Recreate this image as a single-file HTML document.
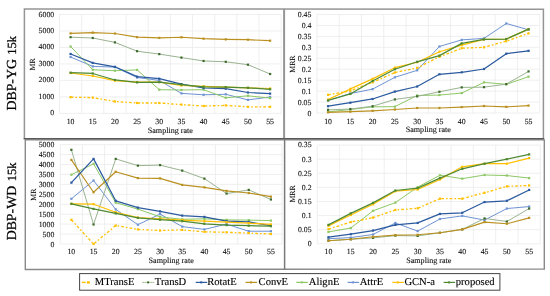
<!DOCTYPE html>
<html><head><meta charset="utf-8"><style>
html,body{margin:0;padding:0;background:#fff;}
body{width:550px;height:296px;overflow:hidden;}
svg{display:block;will-change:transform;text-rendering:geometricPrecision;filter:blur(0.3px);}
.t{font-family:"Liberation Serif", serif;font-size:7.8px;fill:#111;stroke:#111;stroke-width:0.1px;}
.s{font-family:"Liberation Serif", serif;font-size:8.1px;fill:#111;stroke:#111;stroke-width:0.1px;}
.l{font-family:"Liberation Serif", serif;font-size:10.6px;fill:#000;stroke:#000;stroke-width:0.12px;}
.b{font-family:"Liberation Serif", serif;font-size:13.8px;fill:#000;stroke:#000;stroke-width:0.25px;}
</style></head><body>
<svg width="550" height="296" viewBox="0 0 550 296">
<rect width="550" height="296" fill="#fff"/>
<path d="M59.5 113.4H281.2M59.5 96.92H281.2M59.5 80.43H281.2M59.5 63.95H281.2M59.5 47.47H281.2M59.5 30.98H281.2M59.5 14.5H281.2M59.5 14.5V113.4M81.67 14.5V113.4M103.84 14.5V113.4M126.01 14.5V113.4M148.18 14.5V113.4M170.35 14.5V113.4M192.52 14.5V113.4M214.69 14.5V113.4M236.86 14.5V113.4M259.03 14.5V113.4M281.2 14.5V113.4" stroke="#ebebeb" stroke-width="0.8" fill="none"/>
<text x="54.2" y="115.4" text-anchor="end" class="t">0</text>
<text x="54.2" y="98.92" text-anchor="end" class="t">1000</text>
<text x="54.2" y="82.43" text-anchor="end" class="t">2000</text>
<text x="54.2" y="65.95" text-anchor="end" class="t">3000</text>
<text x="54.2" y="49.47" text-anchor="end" class="t">4000</text>
<text x="54.2" y="32.98" text-anchor="end" class="t">5000</text>
<text x="54.2" y="16.5" text-anchor="end" class="t">6000</text>
<text x="70.58" y="124.2" text-anchor="middle" class="t">10</text>
<text x="92.75" y="124.2" text-anchor="middle" class="t">15</text>
<text x="114.92" y="124.2" text-anchor="middle" class="t">20</text>
<text x="137.09" y="124.2" text-anchor="middle" class="t">25</text>
<text x="159.26" y="124.2" text-anchor="middle" class="t">30</text>
<text x="181.44" y="124.2" text-anchor="middle" class="t">35</text>
<text x="203.6" y="124.2" text-anchor="middle" class="t">40</text>
<text x="225.77" y="124.2" text-anchor="middle" class="t">45</text>
<text x="247.94" y="124.2" text-anchor="middle" class="t">50</text>
<text x="270.12" y="124.2" text-anchor="middle" class="t">55</text>
<text x="35.1" y="64.3" text-anchor="middle" class="t" transform="rotate(-90 35.1 64.3)">MR</text>
<text x="170.35" y="132.6" text-anchor="middle" class="s">Sampling rate</text>
<path d="M70.58 57.03 L92.75 66.39 L114.92 67.1 L137.09 77.5 L159.26 80.4 L181.44 93.39 L203.6 94.79 L225.77 94.3 L247.94 99.9 L270.12 97" stroke="#6F93D3" stroke-width="1.0" fill="none" stroke-linejoin="round"/>
<rect x="69.48" y="55.93" width="2.2" height="2.2" fill="#6F93D3"/>
<rect x="91.66" y="65.29" width="2.2" height="2.2" fill="#6F93D3"/>
<rect x="113.83" y="66" width="2.2" height="2.2" fill="#6F93D3"/>
<rect x="136" y="76.4" width="2.2" height="2.2" fill="#6F93D3"/>
<rect x="158.16" y="79.3" width="2.2" height="2.2" fill="#6F93D3"/>
<rect x="180.34" y="92.29" width="2.2" height="2.2" fill="#6F93D3"/>
<rect x="202.5" y="93.69" width="2.2" height="2.2" fill="#6F93D3"/>
<rect x="224.67" y="93.2" width="2.2" height="2.2" fill="#6F93D3"/>
<rect x="246.84" y="98.8" width="2.2" height="2.2" fill="#6F93D3"/>
<rect x="269.01" y="95.9" width="2.2" height="2.2" fill="#6F93D3"/>
<path d="M70.58 46.48 L92.75 69.79 L114.92 70.69 L137.09 69.88 L159.26 89.7 L181.44 89.99 L203.6 89.7 L225.77 97.79 L247.94 95.8 L270.12 98.1" stroke="#8DC865" stroke-width="1.0" fill="none" stroke-linejoin="round"/>
<rect x="69.48" y="45.38" width="2.2" height="2.2" fill="#8DC865"/>
<rect x="91.66" y="68.69" width="2.2" height="2.2" fill="#8DC865"/>
<rect x="113.83" y="69.59" width="2.2" height="2.2" fill="#8DC865"/>
<rect x="136" y="68.78" width="2.2" height="2.2" fill="#8DC865"/>
<rect x="158.16" y="88.6" width="2.2" height="2.2" fill="#8DC865"/>
<rect x="180.34" y="88.89" width="2.2" height="2.2" fill="#8DC865"/>
<rect x="202.5" y="88.6" width="2.2" height="2.2" fill="#8DC865"/>
<rect x="224.67" y="96.69" width="2.2" height="2.2" fill="#8DC865"/>
<rect x="246.84" y="94.7" width="2.2" height="2.2" fill="#8DC865"/>
<rect x="269.01" y="97" width="2.2" height="2.2" fill="#8DC865"/>
<path d="M70.58 37.18 L92.75 37.99 L114.92 42.39 L137.09 51.19 L159.26 54.09 L181.44 57.59 L203.6 60.98 L225.77 61.79 L247.94 64.69 L270.12 73.99" stroke="#9AB391" stroke-width="1" fill="none"/>
<rect x="69.48" y="36.08" width="2.2" height="2.2" fill="#3E6B2C"/>
<rect x="91.66" y="36.89" width="2.2" height="2.2" fill="#3E6B2C"/>
<rect x="113.83" y="41.29" width="2.2" height="2.2" fill="#3E6B2C"/>
<rect x="136" y="50.09" width="2.2" height="2.2" fill="#3E6B2C"/>
<rect x="158.16" y="52.99" width="2.2" height="2.2" fill="#3E6B2C"/>
<rect x="180.34" y="56.49" width="2.2" height="2.2" fill="#3E6B2C"/>
<rect x="202.5" y="59.88" width="2.2" height="2.2" fill="#3E6B2C"/>
<rect x="224.67" y="60.69" width="2.2" height="2.2" fill="#3E6B2C"/>
<rect x="246.84" y="63.59" width="2.2" height="2.2" fill="#3E6B2C"/>
<rect x="269.01" y="72.89" width="2.2" height="2.2" fill="#3E6B2C"/>
<path d="M70.58 33.39 L92.75 32.58 L114.92 33.54 L137.09 37.18 L159.26 37.89 L181.44 37.28 L203.6 38.68 L225.77 39.39 L247.94 39.69 L270.12 40.69" stroke="#BA9020" stroke-width="1.15" fill="none" stroke-linejoin="round"/>
<rect x="69.48" y="32.29" width="2.2" height="2.2" fill="#BA9020"/>
<rect x="91.66" y="31.48" width="2.2" height="2.2" fill="#BA9020"/>
<rect x="113.83" y="32.44" width="2.2" height="2.2" fill="#BA9020"/>
<rect x="136" y="36.08" width="2.2" height="2.2" fill="#BA9020"/>
<rect x="158.16" y="36.79" width="2.2" height="2.2" fill="#BA9020"/>
<rect x="180.34" y="36.18" width="2.2" height="2.2" fill="#BA9020"/>
<rect x="202.5" y="37.58" width="2.2" height="2.2" fill="#BA9020"/>
<rect x="224.67" y="38.29" width="2.2" height="2.2" fill="#BA9020"/>
<rect x="246.84" y="38.59" width="2.2" height="2.2" fill="#BA9020"/>
<rect x="269.01" y="39.59" width="2.2" height="2.2" fill="#BA9020"/>
<path d="M70.58 97.2 L92.75 97.59 L114.92 101.5 L137.09 103 L159.26 103 L181.44 104.6 L203.6 106 L225.77 105.41 L247.94 106.81 L270.12 106.81" stroke="#FFC000" stroke-width="1.3" fill="none" stroke-dasharray="2.8 2 1.6 2"/>
<rect x="69.48" y="96.1" width="2.2" height="2.2" fill="#FFC000"/>
<rect x="91.66" y="96.49" width="2.2" height="2.2" fill="#FFC000"/>
<rect x="113.83" y="100.4" width="2.2" height="2.2" fill="#FFC000"/>
<rect x="136" y="101.9" width="2.2" height="2.2" fill="#FFC000"/>
<rect x="158.16" y="101.9" width="2.2" height="2.2" fill="#FFC000"/>
<rect x="180.34" y="103.5" width="2.2" height="2.2" fill="#FFC000"/>
<rect x="202.5" y="104.9" width="2.2" height="2.2" fill="#FFC000"/>
<rect x="224.67" y="104.31" width="2.2" height="2.2" fill="#FFC000"/>
<rect x="246.84" y="105.71" width="2.2" height="2.2" fill="#FFC000"/>
<rect x="269.01" y="105.71" width="2.2" height="2.2" fill="#FFC000"/>
<path d="M70.58 53.99 L92.75 62.9 L114.92 66.79 L137.09 76.69 L159.26 78.69 L181.44 84.09 L203.6 88 L225.77 88.69 L247.94 92.5 L270.12 93.6" stroke="#2B5A9F" stroke-width="1.25" fill="none" stroke-linejoin="round"/>
<rect x="69.48" y="52.89" width="2.2" height="2.2" fill="#2B5A9F"/>
<rect x="91.66" y="61.8" width="2.2" height="2.2" fill="#2B5A9F"/>
<rect x="113.83" y="65.69" width="2.2" height="2.2" fill="#2B5A9F"/>
<rect x="136" y="75.59" width="2.2" height="2.2" fill="#2B5A9F"/>
<rect x="158.16" y="77.59" width="2.2" height="2.2" fill="#2B5A9F"/>
<rect x="180.34" y="82.99" width="2.2" height="2.2" fill="#2B5A9F"/>
<rect x="202.5" y="86.9" width="2.2" height="2.2" fill="#2B5A9F"/>
<rect x="224.67" y="87.59" width="2.2" height="2.2" fill="#2B5A9F"/>
<rect x="246.84" y="91.4" width="2.2" height="2.2" fill="#2B5A9F"/>
<rect x="269.01" y="92.5" width="2.2" height="2.2" fill="#2B5A9F"/>
<path d="M70.58 73.02 L92.75 76 L114.92 80.6 L137.09 82.1 L159.26 82.1 L181.44 85.49 L203.6 86.3 L225.77 87.09 L247.94 87.8 L270.12 88.49" stroke="#FFC000" stroke-width="1.2" fill="none" stroke-linejoin="round"/>
<rect x="69.48" y="71.92" width="2.2" height="2.2" fill="#FFC000"/>
<rect x="91.66" y="74.9" width="2.2" height="2.2" fill="#FFC000"/>
<rect x="113.83" y="79.5" width="2.2" height="2.2" fill="#FFC000"/>
<rect x="136" y="81" width="2.2" height="2.2" fill="#FFC000"/>
<rect x="158.16" y="81" width="2.2" height="2.2" fill="#FFC000"/>
<rect x="180.34" y="84.39" width="2.2" height="2.2" fill="#FFC000"/>
<rect x="202.5" y="85.2" width="2.2" height="2.2" fill="#FFC000"/>
<rect x="224.67" y="85.99" width="2.2" height="2.2" fill="#FFC000"/>
<rect x="246.84" y="86.7" width="2.2" height="2.2" fill="#FFC000"/>
<rect x="269.01" y="87.39" width="2.2" height="2.2" fill="#FFC000"/>
<path d="M70.58 72.69 L92.75 73.49 L114.92 79.99 L137.09 82.39 L159.26 82.1 L181.44 84.59 L203.6 86.8 L225.77 87.19 L247.94 87.8 L270.12 89.3" stroke="#4F8A33" stroke-width="1.25" fill="none" stroke-linejoin="round"/>
<rect x="69.48" y="71.59" width="2.2" height="2.2" fill="#4F8A33"/>
<rect x="91.66" y="72.39" width="2.2" height="2.2" fill="#4F8A33"/>
<rect x="113.83" y="78.89" width="2.2" height="2.2" fill="#4F8A33"/>
<rect x="136" y="81.29" width="2.2" height="2.2" fill="#4F8A33"/>
<rect x="158.16" y="81" width="2.2" height="2.2" fill="#4F8A33"/>
<rect x="180.34" y="83.49" width="2.2" height="2.2" fill="#4F8A33"/>
<rect x="202.5" y="85.7" width="2.2" height="2.2" fill="#4F8A33"/>
<rect x="224.67" y="86.09" width="2.2" height="2.2" fill="#4F8A33"/>
<rect x="246.84" y="86.7" width="2.2" height="2.2" fill="#4F8A33"/>
<rect x="269.01" y="88.2" width="2.2" height="2.2" fill="#4F8A33"/>
<path d="M316.9 113H539.7M316.9 102.06H539.7M316.9 91.11H539.7M316.9 80.17H539.7M316.9 69.22H539.7M316.9 58.28H539.7M316.9 47.33H539.7M316.9 36.39H539.7M316.9 25.44H539.7M316.9 14.5H539.7M316.9 14.5V113M339.18 14.5V113M361.46 14.5V113M383.74 14.5V113M406.02 14.5V113M428.3 14.5V113M450.58 14.5V113M472.86 14.5V113M495.14 14.5V113M517.42 14.5V113M539.7 14.5V113" stroke="#ebebeb" stroke-width="0.8" fill="none"/>
<text x="311.4" y="115.6" text-anchor="end" class="t">0</text>
<text x="311.4" y="104.66" text-anchor="end" class="t">0.05</text>
<text x="311.4" y="93.71" text-anchor="end" class="t">0.1</text>
<text x="311.4" y="82.77" text-anchor="end" class="t">0.15</text>
<text x="311.4" y="71.82" text-anchor="end" class="t">0.2</text>
<text x="311.4" y="60.88" text-anchor="end" class="t">0.25</text>
<text x="311.4" y="49.93" text-anchor="end" class="t">0.3</text>
<text x="311.4" y="38.99" text-anchor="end" class="t">0.35</text>
<text x="311.4" y="28.04" text-anchor="end" class="t">0.4</text>
<text x="311.4" y="17.1" text-anchor="end" class="t">0.45</text>
<text x="328.04" y="124" text-anchor="middle" class="t">10</text>
<text x="350.32" y="124" text-anchor="middle" class="t">15</text>
<text x="372.6" y="124" text-anchor="middle" class="t">20</text>
<text x="394.88" y="124" text-anchor="middle" class="t">25</text>
<text x="417.16" y="124" text-anchor="middle" class="t">30</text>
<text x="439.44" y="124" text-anchor="middle" class="t">35</text>
<text x="461.72" y="124" text-anchor="middle" class="t">40</text>
<text x="484" y="124" text-anchor="middle" class="t">45</text>
<text x="506.28" y="124" text-anchor="middle" class="t">50</text>
<text x="528.56" y="124" text-anchor="middle" class="t">55</text>
<text x="294.9" y="64.1" text-anchor="middle" class="t" transform="rotate(-90 294.9 64.1)">MRR</text>
<text x="428.3" y="132.4" text-anchor="middle" class="s">Sampling rate</text>
<path d="M328.04 100.3 L350.32 93.52 L372.6 89.14 L394.88 77.32 L417.16 70.32 L439.44 46.46 L461.72 39.89 L484 38.36 L506.28 23.47 L528.56 29.82" stroke="#6F93D3" stroke-width="1.0" fill="none" stroke-linejoin="round"/>
<rect x="326.94" y="99.2" width="2.2" height="2.2" fill="#6F93D3"/>
<rect x="349.22" y="92.42" width="2.2" height="2.2" fill="#6F93D3"/>
<rect x="371.5" y="88.04" width="2.2" height="2.2" fill="#6F93D3"/>
<rect x="393.78" y="76.22" width="2.2" height="2.2" fill="#6F93D3"/>
<rect x="416.06" y="69.22" width="2.2" height="2.2" fill="#6F93D3"/>
<rect x="438.34" y="45.36" width="2.2" height="2.2" fill="#6F93D3"/>
<rect x="460.62" y="38.79" width="2.2" height="2.2" fill="#6F93D3"/>
<rect x="482.9" y="37.26" width="2.2" height="2.2" fill="#6F93D3"/>
<rect x="505.18" y="22.37" width="2.2" height="2.2" fill="#6F93D3"/>
<rect x="527.46" y="28.72" width="2.2" height="2.2" fill="#6F93D3"/>
<path d="M328.04 111.91 L350.32 109.5 L372.6 106.87 L394.88 106.65 L417.16 95.49 L439.44 95.05 L461.72 93.08 L484 82.36 L506.28 84.33 L528.56 76.66" stroke="#8DC865" stroke-width="1.0" fill="none" stroke-linejoin="round"/>
<rect x="326.94" y="110.81" width="2.2" height="2.2" fill="#8DC865"/>
<rect x="349.22" y="108.4" width="2.2" height="2.2" fill="#8DC865"/>
<rect x="371.5" y="105.77" width="2.2" height="2.2" fill="#8DC865"/>
<rect x="393.78" y="105.55" width="2.2" height="2.2" fill="#8DC865"/>
<rect x="416.06" y="94.39" width="2.2" height="2.2" fill="#8DC865"/>
<rect x="438.34" y="93.95" width="2.2" height="2.2" fill="#8DC865"/>
<rect x="460.62" y="91.98" width="2.2" height="2.2" fill="#8DC865"/>
<rect x="482.9" y="81.26" width="2.2" height="2.2" fill="#8DC865"/>
<rect x="505.18" y="83.23" width="2.2" height="2.2" fill="#8DC865"/>
<rect x="527.46" y="75.56" width="2.2" height="2.2" fill="#8DC865"/>
<path d="M328.04 109.83 L350.32 109.06 L372.6 106.21 L394.88 99.43 L417.16 96.36 L439.44 91.77 L461.72 87.39 L484 87.17 L506.28 84.11 L528.56 71.41" stroke="#9AB391" stroke-width="1" fill="none"/>
<rect x="326.94" y="108.73" width="2.2" height="2.2" fill="#3E6B2C"/>
<rect x="349.22" y="107.96" width="2.2" height="2.2" fill="#3E6B2C"/>
<rect x="371.5" y="105.11" width="2.2" height="2.2" fill="#3E6B2C"/>
<rect x="393.78" y="98.33" width="2.2" height="2.2" fill="#3E6B2C"/>
<rect x="416.06" y="95.26" width="2.2" height="2.2" fill="#3E6B2C"/>
<rect x="438.34" y="90.67" width="2.2" height="2.2" fill="#3E6B2C"/>
<rect x="460.62" y="86.29" width="2.2" height="2.2" fill="#3E6B2C"/>
<rect x="482.9" y="86.07" width="2.2" height="2.2" fill="#3E6B2C"/>
<rect x="505.18" y="83.01" width="2.2" height="2.2" fill="#3E6B2C"/>
<rect x="527.46" y="70.31" width="2.2" height="2.2" fill="#3E6B2C"/>
<path d="M328.04 112.34 L350.32 111.69 L372.6 110.81 L394.88 109.5 L417.16 107.97 L439.44 107.97 L461.72 107.09 L484 106 L506.28 106.87 L528.56 105.56" stroke="#BA9020" stroke-width="1.15" fill="none" stroke-linejoin="round"/>
<rect x="326.94" y="111.24" width="2.2" height="2.2" fill="#BA9020"/>
<rect x="349.22" y="110.59" width="2.2" height="2.2" fill="#BA9020"/>
<rect x="371.5" y="109.71" width="2.2" height="2.2" fill="#BA9020"/>
<rect x="393.78" y="108.4" width="2.2" height="2.2" fill="#BA9020"/>
<rect x="416.06" y="106.87" width="2.2" height="2.2" fill="#BA9020"/>
<rect x="438.34" y="106.87" width="2.2" height="2.2" fill="#BA9020"/>
<rect x="460.62" y="105.99" width="2.2" height="2.2" fill="#BA9020"/>
<rect x="482.9" y="104.9" width="2.2" height="2.2" fill="#BA9020"/>
<rect x="505.18" y="105.77" width="2.2" height="2.2" fill="#BA9020"/>
<rect x="527.46" y="104.46" width="2.2" height="2.2" fill="#BA9020"/>
<path d="M328.04 94.83 L350.32 90.89 L372.6 82.36 L394.88 72.51 L417.16 67.91 L439.44 56.75 L461.72 48.21 L484 47.33 L506.28 41.2 L528.56 33.32" stroke="#FFC000" stroke-width="1.3" fill="none" stroke-dasharray="2.8 2 1.6 2"/>
<rect x="326.94" y="93.73" width="2.2" height="2.2" fill="#FFC000"/>
<rect x="349.22" y="89.79" width="2.2" height="2.2" fill="#FFC000"/>
<rect x="371.5" y="81.26" width="2.2" height="2.2" fill="#FFC000"/>
<rect x="393.78" y="71.41" width="2.2" height="2.2" fill="#FFC000"/>
<rect x="416.06" y="66.81" width="2.2" height="2.2" fill="#FFC000"/>
<rect x="438.34" y="55.65" width="2.2" height="2.2" fill="#FFC000"/>
<rect x="460.62" y="47.11" width="2.2" height="2.2" fill="#FFC000"/>
<rect x="482.9" y="46.23" width="2.2" height="2.2" fill="#FFC000"/>
<rect x="505.18" y="40.1" width="2.2" height="2.2" fill="#FFC000"/>
<rect x="527.46" y="32.22" width="2.2" height="2.2" fill="#FFC000"/>
<path d="M328.04 106.21 L350.32 102.71 L372.6 98.99 L394.88 91.55 L417.16 86.51 L439.44 74.26 L461.72 72.29 L484 69 L506.28 53.68 L528.56 50.84" stroke="#2B5A9F" stroke-width="1.25" fill="none" stroke-linejoin="round"/>
<rect x="326.94" y="105.11" width="2.2" height="2.2" fill="#2B5A9F"/>
<rect x="349.22" y="101.61" width="2.2" height="2.2" fill="#2B5A9F"/>
<rect x="371.5" y="97.89" width="2.2" height="2.2" fill="#2B5A9F"/>
<rect x="393.78" y="90.45" width="2.2" height="2.2" fill="#2B5A9F"/>
<rect x="416.06" y="85.41" width="2.2" height="2.2" fill="#2B5A9F"/>
<rect x="438.34" y="73.16" width="2.2" height="2.2" fill="#2B5A9F"/>
<rect x="460.62" y="71.19" width="2.2" height="2.2" fill="#2B5A9F"/>
<rect x="482.9" y="67.9" width="2.2" height="2.2" fill="#2B5A9F"/>
<rect x="505.18" y="52.58" width="2.2" height="2.2" fill="#2B5A9F"/>
<rect x="527.46" y="49.74" width="2.2" height="2.2" fill="#2B5A9F"/>
<path d="M328.04 99.65 L350.32 88.92 L372.6 78.85 L394.88 67.69 L417.16 62.22 L439.44 51.71 L461.72 45.14 L484 39.45 L506.28 39.02 L528.56 29.17" stroke="#FFC000" stroke-width="1.2" fill="none" stroke-linejoin="round"/>
<rect x="326.94" y="98.55" width="2.2" height="2.2" fill="#FFC000"/>
<rect x="349.22" y="87.82" width="2.2" height="2.2" fill="#FFC000"/>
<rect x="371.5" y="77.75" width="2.2" height="2.2" fill="#FFC000"/>
<rect x="393.78" y="66.59" width="2.2" height="2.2" fill="#FFC000"/>
<rect x="416.06" y="61.12" width="2.2" height="2.2" fill="#FFC000"/>
<rect x="438.34" y="50.61" width="2.2" height="2.2" fill="#FFC000"/>
<rect x="460.62" y="44.04" width="2.2" height="2.2" fill="#FFC000"/>
<rect x="482.9" y="38.35" width="2.2" height="2.2" fill="#FFC000"/>
<rect x="505.18" y="37.92" width="2.2" height="2.2" fill="#FFC000"/>
<rect x="527.46" y="28.07" width="2.2" height="2.2" fill="#FFC000"/>
<path d="M328.04 100.52 L350.32 93.96 L372.6 81.04 L394.88 69.22 L417.16 61.78 L439.44 55.65 L461.72 43.39 L484 39.45 L506.28 39.02 L528.56 29.17" stroke="#4F8A33" stroke-width="1.25" fill="none" stroke-linejoin="round"/>
<rect x="326.94" y="99.42" width="2.2" height="2.2" fill="#4F8A33"/>
<rect x="349.22" y="92.86" width="2.2" height="2.2" fill="#4F8A33"/>
<rect x="371.5" y="79.94" width="2.2" height="2.2" fill="#4F8A33"/>
<rect x="393.78" y="68.12" width="2.2" height="2.2" fill="#4F8A33"/>
<rect x="416.06" y="60.68" width="2.2" height="2.2" fill="#4F8A33"/>
<rect x="438.34" y="54.55" width="2.2" height="2.2" fill="#4F8A33"/>
<rect x="460.62" y="42.29" width="2.2" height="2.2" fill="#4F8A33"/>
<rect x="482.9" y="38.35" width="2.2" height="2.2" fill="#4F8A33"/>
<rect x="505.18" y="37.92" width="2.2" height="2.2" fill="#4F8A33"/>
<rect x="527.46" y="28.07" width="2.2" height="2.2" fill="#4F8A33"/>
<path d="M60.3 244H282M60.3 234.07H282M60.3 224.14H282M60.3 214.21H282M60.3 204.28H282M60.3 194.35H282M60.3 184.42H282M60.3 174.49H282M60.3 164.56H282M60.3 154.63H282M60.3 144.7H282M60.3 144.7V244M82.47 144.7V244M104.64 144.7V244M126.81 144.7V244M148.98 144.7V244M171.15 144.7V244M193.32 144.7V244M215.49 144.7V244M237.66 144.7V244M259.83 144.7V244M282 144.7V244" stroke="#ebebeb" stroke-width="0.8" fill="none"/>
<text x="54.3" y="246.5" text-anchor="end" class="t">0</text>
<text x="54.3" y="236.57" text-anchor="end" class="t">500</text>
<text x="54.3" y="226.64" text-anchor="end" class="t">1000</text>
<text x="54.3" y="216.71" text-anchor="end" class="t">1500</text>
<text x="54.3" y="206.78" text-anchor="end" class="t">2000</text>
<text x="54.3" y="196.85" text-anchor="end" class="t">2500</text>
<text x="54.3" y="186.92" text-anchor="end" class="t">3000</text>
<text x="54.3" y="176.99" text-anchor="end" class="t">3500</text>
<text x="54.3" y="167.06" text-anchor="end" class="t">4000</text>
<text x="54.3" y="157.13" text-anchor="end" class="t">4500</text>
<text x="54.3" y="147.2" text-anchor="end" class="t">5000</text>
<text x="71.38" y="254.4" text-anchor="middle" class="t">10</text>
<text x="93.55" y="254.4" text-anchor="middle" class="t">15</text>
<text x="115.72" y="254.4" text-anchor="middle" class="t">20</text>
<text x="137.89" y="254.4" text-anchor="middle" class="t">25</text>
<text x="160.06" y="254.4" text-anchor="middle" class="t">30</text>
<text x="182.23" y="254.4" text-anchor="middle" class="t">35</text>
<text x="204.4" y="254.4" text-anchor="middle" class="t">40</text>
<text x="226.57" y="254.4" text-anchor="middle" class="t">45</text>
<text x="248.75" y="254.4" text-anchor="middle" class="t">50</text>
<text x="270.91" y="254.4" text-anchor="middle" class="t">55</text>
<text x="35.9" y="194.6" text-anchor="middle" class="t" transform="rotate(-90 35.9 194.6)">MR</text>
<text x="171.15" y="263.2" text-anchor="middle" class="s">Sampling rate</text>
<path d="M71.38 198.8 L93.55 180.51 L115.72 209.4 L137.89 224.7 L160.06 214.11 L182.23 226.6 L204.4 229.4 L226.57 224.14 L248.75 231.21 L270.91 231.21" stroke="#6F93D3" stroke-width="1.0" fill="none" stroke-linejoin="round"/>
<rect x="70.28" y="197.7" width="2.2" height="2.2" fill="#6F93D3"/>
<rect x="92.45" y="179.41" width="2.2" height="2.2" fill="#6F93D3"/>
<rect x="114.62" y="208.3" width="2.2" height="2.2" fill="#6F93D3"/>
<rect x="136.79" y="223.6" width="2.2" height="2.2" fill="#6F93D3"/>
<rect x="158.97" y="213.01" width="2.2" height="2.2" fill="#6F93D3"/>
<rect x="181.13" y="225.5" width="2.2" height="2.2" fill="#6F93D3"/>
<rect x="203.3" y="228.3" width="2.2" height="2.2" fill="#6F93D3"/>
<rect x="225.47" y="223.04" width="2.2" height="2.2" fill="#6F93D3"/>
<rect x="247.65" y="230.11" width="2.2" height="2.2" fill="#6F93D3"/>
<rect x="269.81" y="230.11" width="2.2" height="2.2" fill="#6F93D3"/>
<path d="M71.38 174.71 L93.55 163.81 L115.72 202.69 L137.89 209.11 L160.06 216.91 L182.23 219.31 L204.4 218.82 L226.57 219.87 L248.75 220.11 L270.91 220.6" stroke="#8DC865" stroke-width="1.0" fill="none" stroke-linejoin="round"/>
<rect x="70.28" y="173.61" width="2.2" height="2.2" fill="#8DC865"/>
<rect x="92.45" y="162.71" width="2.2" height="2.2" fill="#8DC865"/>
<rect x="114.62" y="201.59" width="2.2" height="2.2" fill="#8DC865"/>
<rect x="136.79" y="208.01" width="2.2" height="2.2" fill="#8DC865"/>
<rect x="158.97" y="215.81" width="2.2" height="2.2" fill="#8DC865"/>
<rect x="181.13" y="218.21" width="2.2" height="2.2" fill="#8DC865"/>
<rect x="203.3" y="217.72" width="2.2" height="2.2" fill="#8DC865"/>
<rect x="225.47" y="218.77" width="2.2" height="2.2" fill="#8DC865"/>
<rect x="247.65" y="219.01" width="2.2" height="2.2" fill="#8DC865"/>
<rect x="269.81" y="219.5" width="2.2" height="2.2" fill="#8DC865"/>
<path d="M71.38 149.8 L93.55 224.5 L115.72 158.9 L137.89 165.61 L160.06 165.1 L182.23 170.6 L204.4 178.6 L226.57 193.56 L248.75 189.9 L270.91 199.49" stroke="#9AB391" stroke-width="1" fill="none"/>
<rect x="70.28" y="148.7" width="2.2" height="2.2" fill="#3E6B2C"/>
<rect x="92.45" y="223.4" width="2.2" height="2.2" fill="#3E6B2C"/>
<rect x="114.62" y="157.8" width="2.2" height="2.2" fill="#3E6B2C"/>
<rect x="136.79" y="164.51" width="2.2" height="2.2" fill="#3E6B2C"/>
<rect x="158.97" y="164" width="2.2" height="2.2" fill="#3E6B2C"/>
<rect x="181.13" y="169.5" width="2.2" height="2.2" fill="#3E6B2C"/>
<rect x="203.3" y="177.5" width="2.2" height="2.2" fill="#3E6B2C"/>
<rect x="225.47" y="192.46" width="2.2" height="2.2" fill="#3E6B2C"/>
<rect x="247.65" y="188.8" width="2.2" height="2.2" fill="#3E6B2C"/>
<rect x="269.81" y="198.39" width="2.2" height="2.2" fill="#3E6B2C"/>
<path d="M71.38 159.89 L93.55 192.26 L115.72 171.75 L137.89 178.1 L160.06 178.4 L182.23 184.9 L204.4 187.4 L226.57 190.89 L248.75 193 L270.91 196.69" stroke="#BA9020" stroke-width="1.15" fill="none" stroke-linejoin="round"/>
<rect x="70.28" y="158.79" width="2.2" height="2.2" fill="#BA9020"/>
<rect x="92.45" y="191.16" width="2.2" height="2.2" fill="#BA9020"/>
<rect x="114.62" y="170.65" width="2.2" height="2.2" fill="#BA9020"/>
<rect x="136.79" y="177" width="2.2" height="2.2" fill="#BA9020"/>
<rect x="158.97" y="177.3" width="2.2" height="2.2" fill="#BA9020"/>
<rect x="181.13" y="183.8" width="2.2" height="2.2" fill="#BA9020"/>
<rect x="203.3" y="186.3" width="2.2" height="2.2" fill="#BA9020"/>
<rect x="225.47" y="189.79" width="2.2" height="2.2" fill="#BA9020"/>
<rect x="247.65" y="191.9" width="2.2" height="2.2" fill="#BA9020"/>
<rect x="269.81" y="195.59" width="2.2" height="2.2" fill="#BA9020"/>
<path d="M71.38 219.81 L93.55 244 L115.72 225.53 L137.89 229.4 L160.06 230.5 L182.23 229.9 L204.4 231.81 L226.57 232.3 L248.75 233.1 L270.91 234.01" stroke="#FFC000" stroke-width="1.3" fill="none" stroke-dasharray="2.8 2 1.6 2"/>
<rect x="70.28" y="218.71" width="2.2" height="2.2" fill="#FFC000"/>
<rect x="92.45" y="242.9" width="2.2" height="2.2" fill="#FFC000"/>
<rect x="114.62" y="224.43" width="2.2" height="2.2" fill="#FFC000"/>
<rect x="136.79" y="228.3" width="2.2" height="2.2" fill="#FFC000"/>
<rect x="158.97" y="229.4" width="2.2" height="2.2" fill="#FFC000"/>
<rect x="181.13" y="228.8" width="2.2" height="2.2" fill="#FFC000"/>
<rect x="203.3" y="230.71" width="2.2" height="2.2" fill="#FFC000"/>
<rect x="225.47" y="231.2" width="2.2" height="2.2" fill="#FFC000"/>
<rect x="247.65" y="232" width="2.2" height="2.2" fill="#FFC000"/>
<rect x="269.81" y="232.91" width="2.2" height="2.2" fill="#FFC000"/>
<path d="M71.38 182.69 L93.55 158.9 L115.72 200.8 L137.89 207.6 L160.06 211.41 L182.23 215.6 L204.4 216.91 L226.57 221.16 L248.75 221.9 L270.91 225.71" stroke="#2B5A9F" stroke-width="1.25" fill="none" stroke-linejoin="round"/>
<rect x="70.28" y="181.59" width="2.2" height="2.2" fill="#2B5A9F"/>
<rect x="92.45" y="157.8" width="2.2" height="2.2" fill="#2B5A9F"/>
<rect x="114.62" y="199.7" width="2.2" height="2.2" fill="#2B5A9F"/>
<rect x="136.79" y="206.5" width="2.2" height="2.2" fill="#2B5A9F"/>
<rect x="158.97" y="210.31" width="2.2" height="2.2" fill="#2B5A9F"/>
<rect x="181.13" y="214.5" width="2.2" height="2.2" fill="#2B5A9F"/>
<rect x="203.3" y="215.81" width="2.2" height="2.2" fill="#2B5A9F"/>
<rect x="225.47" y="220.06" width="2.2" height="2.2" fill="#2B5A9F"/>
<rect x="247.65" y="220.8" width="2.2" height="2.2" fill="#2B5A9F"/>
<rect x="269.81" y="224.61" width="2.2" height="2.2" fill="#2B5A9F"/>
<path d="M71.38 203.8 L93.55 204.2 L115.72 212.3 L137.89 217.51 L160.06 218.82 L182.23 220.11 L204.4 221.2 L226.57 222.15 L248.75 223.11 L270.91 224.4" stroke="#FFC000" stroke-width="1.2" fill="none" stroke-linejoin="round"/>
<rect x="70.28" y="202.7" width="2.2" height="2.2" fill="#FFC000"/>
<rect x="92.45" y="203.1" width="2.2" height="2.2" fill="#FFC000"/>
<rect x="114.62" y="211.2" width="2.2" height="2.2" fill="#FFC000"/>
<rect x="136.79" y="216.41" width="2.2" height="2.2" fill="#FFC000"/>
<rect x="158.97" y="217.72" width="2.2" height="2.2" fill="#FFC000"/>
<rect x="181.13" y="219.01" width="2.2" height="2.2" fill="#FFC000"/>
<rect x="203.3" y="220.1" width="2.2" height="2.2" fill="#FFC000"/>
<rect x="225.47" y="221.05" width="2.2" height="2.2" fill="#FFC000"/>
<rect x="247.65" y="222.01" width="2.2" height="2.2" fill="#FFC000"/>
<rect x="269.81" y="223.3" width="2.2" height="2.2" fill="#FFC000"/>
<path d="M71.38 203.8 L93.55 208.91 L115.72 213.42 L137.89 217.9 L160.06 219.71 L182.23 221.2 L204.4 223.8 L226.57 225.13 L248.75 225.71 L270.91 226.21" stroke="#4F8A33" stroke-width="1.25" fill="none" stroke-linejoin="round"/>
<rect x="70.28" y="202.7" width="2.2" height="2.2" fill="#4F8A33"/>
<rect x="92.45" y="207.81" width="2.2" height="2.2" fill="#4F8A33"/>
<rect x="114.62" y="212.32" width="2.2" height="2.2" fill="#4F8A33"/>
<rect x="136.79" y="216.8" width="2.2" height="2.2" fill="#4F8A33"/>
<rect x="158.97" y="218.61" width="2.2" height="2.2" fill="#4F8A33"/>
<rect x="181.13" y="220.1" width="2.2" height="2.2" fill="#4F8A33"/>
<rect x="203.3" y="222.7" width="2.2" height="2.2" fill="#4F8A33"/>
<rect x="225.47" y="224.03" width="2.2" height="2.2" fill="#4F8A33"/>
<rect x="247.65" y="224.61" width="2.2" height="2.2" fill="#4F8A33"/>
<rect x="269.81" y="225.11" width="2.2" height="2.2" fill="#4F8A33"/>
<path d="M317.3 243.8H540.3M317.3 229.7H540.3M317.3 215.6H540.3M317.3 201.5H540.3M317.3 187.4H540.3M317.3 173.3H540.3M317.3 159.2H540.3M317.3 145.1H540.3M317.3 145.1V243.8M339.6 145.1V243.8M361.9 145.1V243.8M384.2 145.1V243.8M406.5 145.1V243.8M428.8 145.1V243.8M451.1 145.1V243.8M473.4 145.1V243.8M495.7 145.1V243.8M518 145.1V243.8M540.3 145.1V243.8" stroke="#ebebeb" stroke-width="0.8" fill="none"/>
<text x="311.6" y="246.1" text-anchor="end" class="t">0</text>
<text x="311.6" y="232" text-anchor="end" class="t">0.05</text>
<text x="311.6" y="217.9" text-anchor="end" class="t">0.1</text>
<text x="311.6" y="203.8" text-anchor="end" class="t">0.15</text>
<text x="311.6" y="189.7" text-anchor="end" class="t">0.2</text>
<text x="311.6" y="175.6" text-anchor="end" class="t">0.25</text>
<text x="311.6" y="161.5" text-anchor="end" class="t">0.3</text>
<text x="311.6" y="147.4" text-anchor="end" class="t">0.35</text>
<text x="328.45" y="254.3" text-anchor="middle" class="t">10</text>
<text x="350.75" y="254.3" text-anchor="middle" class="t">15</text>
<text x="373.05" y="254.3" text-anchor="middle" class="t">20</text>
<text x="395.35" y="254.3" text-anchor="middle" class="t">25</text>
<text x="417.65" y="254.3" text-anchor="middle" class="t">30</text>
<text x="439.95" y="254.3" text-anchor="middle" class="t">35</text>
<text x="462.25" y="254.3" text-anchor="middle" class="t">40</text>
<text x="484.55" y="254.3" text-anchor="middle" class="t">45</text>
<text x="506.85" y="254.3" text-anchor="middle" class="t">50</text>
<text x="529.15" y="254.3" text-anchor="middle" class="t">55</text>
<text x="295.2" y="193.9" text-anchor="middle" class="t" transform="rotate(-90 295.2 193.9)">MRR</text>
<text x="428.8" y="263.2" text-anchor="middle" class="s">Sampling rate</text>
<path d="M328.45 238.72 L350.75 237.6 L373.05 234.49 L395.35 222.93 L417.65 231.11 L439.95 218.98 L462.25 215.88 L484.55 220.11 L506.85 208.55 L529.15 206.58" stroke="#6F93D3" stroke-width="1.0" fill="none" stroke-linejoin="round"/>
<rect x="327.35" y="237.62" width="2.2" height="2.2" fill="#6F93D3"/>
<rect x="349.65" y="236.5" width="2.2" height="2.2" fill="#6F93D3"/>
<rect x="371.95" y="233.39" width="2.2" height="2.2" fill="#6F93D3"/>
<rect x="394.25" y="221.83" width="2.2" height="2.2" fill="#6F93D3"/>
<rect x="416.55" y="230.01" width="2.2" height="2.2" fill="#6F93D3"/>
<rect x="438.85" y="217.88" width="2.2" height="2.2" fill="#6F93D3"/>
<rect x="461.15" y="214.78" width="2.2" height="2.2" fill="#6F93D3"/>
<rect x="483.45" y="219.01" width="2.2" height="2.2" fill="#6F93D3"/>
<rect x="505.75" y="207.45" width="2.2" height="2.2" fill="#6F93D3"/>
<rect x="528.05" y="205.48" width="2.2" height="2.2" fill="#6F93D3"/>
<path d="M328.45 231.96 L350.75 228.01 L373.05 210.81 L395.35 202.63 L417.65 187.12 L439.95 175.27 L462.25 178.66 L484.55 174.99 L506.85 175.56 L529.15 178.09" stroke="#8DC865" stroke-width="1.0" fill="none" stroke-linejoin="round"/>
<rect x="327.35" y="230.86" width="2.2" height="2.2" fill="#8DC865"/>
<rect x="349.65" y="226.91" width="2.2" height="2.2" fill="#8DC865"/>
<rect x="371.95" y="209.71" width="2.2" height="2.2" fill="#8DC865"/>
<rect x="394.25" y="201.53" width="2.2" height="2.2" fill="#8DC865"/>
<rect x="416.55" y="186.02" width="2.2" height="2.2" fill="#8DC865"/>
<rect x="438.85" y="174.17" width="2.2" height="2.2" fill="#8DC865"/>
<rect x="461.15" y="177.56" width="2.2" height="2.2" fill="#8DC865"/>
<rect x="483.45" y="173.89" width="2.2" height="2.2" fill="#8DC865"/>
<rect x="505.75" y="174.46" width="2.2" height="2.2" fill="#8DC865"/>
<rect x="528.05" y="176.99" width="2.2" height="2.2" fill="#8DC865"/>
<path d="M328.45 240.7 L350.75 239.29 L373.05 237.88 L395.35 235.62 L417.65 235.9 L439.95 232.8 L462.25 229.42 L484.55 218.42 L506.85 221.52 L529.15 208.55" stroke="#9AB391" stroke-width="1" fill="none"/>
<rect x="327.35" y="239.6" width="2.2" height="2.2" fill="#3E6B2C"/>
<rect x="349.65" y="238.19" width="2.2" height="2.2" fill="#3E6B2C"/>
<rect x="371.95" y="236.78" width="2.2" height="2.2" fill="#3E6B2C"/>
<rect x="394.25" y="234.52" width="2.2" height="2.2" fill="#3E6B2C"/>
<rect x="416.55" y="234.8" width="2.2" height="2.2" fill="#3E6B2C"/>
<rect x="438.85" y="231.7" width="2.2" height="2.2" fill="#3E6B2C"/>
<rect x="461.15" y="228.32" width="2.2" height="2.2" fill="#3E6B2C"/>
<rect x="483.45" y="217.32" width="2.2" height="2.2" fill="#3E6B2C"/>
<rect x="505.75" y="220.42" width="2.2" height="2.2" fill="#3E6B2C"/>
<rect x="528.05" y="207.45" width="2.2" height="2.2" fill="#3E6B2C"/>
<path d="M328.45 240.7 L350.75 239.29 L373.05 236.75 L395.35 235.06 L417.65 234.78 L439.95 232.8 L462.25 229.42 L484.55 222.09 L506.85 223.78 L529.15 217.86" stroke="#BA9020" stroke-width="1.15" fill="none" stroke-linejoin="round"/>
<rect x="327.35" y="239.6" width="2.2" height="2.2" fill="#BA9020"/>
<rect x="349.65" y="238.19" width="2.2" height="2.2" fill="#BA9020"/>
<rect x="371.95" y="235.65" width="2.2" height="2.2" fill="#BA9020"/>
<rect x="394.25" y="233.96" width="2.2" height="2.2" fill="#BA9020"/>
<rect x="416.55" y="233.68" width="2.2" height="2.2" fill="#BA9020"/>
<rect x="438.85" y="231.7" width="2.2" height="2.2" fill="#BA9020"/>
<rect x="461.15" y="228.32" width="2.2" height="2.2" fill="#BA9020"/>
<rect x="483.45" y="220.99" width="2.2" height="2.2" fill="#BA9020"/>
<rect x="505.75" y="222.68" width="2.2" height="2.2" fill="#BA9020"/>
<rect x="528.05" y="216.76" width="2.2" height="2.2" fill="#BA9020"/>
<path d="M328.45 229.14 L350.75 222.09 L373.05 217.57 L395.35 209.96 L417.65 208.27 L439.95 198.68 L462.25 198.68 L484.55 192.76 L506.85 186.41 L529.15 185.43" stroke="#FFC000" stroke-width="1.3" fill="none" stroke-dasharray="2.8 2 1.6 2"/>
<rect x="327.35" y="228.04" width="2.2" height="2.2" fill="#FFC000"/>
<rect x="349.65" y="220.99" width="2.2" height="2.2" fill="#FFC000"/>
<rect x="371.95" y="216.47" width="2.2" height="2.2" fill="#FFC000"/>
<rect x="394.25" y="208.86" width="2.2" height="2.2" fill="#FFC000"/>
<rect x="416.55" y="207.17" width="2.2" height="2.2" fill="#FFC000"/>
<rect x="438.85" y="197.58" width="2.2" height="2.2" fill="#FFC000"/>
<rect x="461.15" y="197.58" width="2.2" height="2.2" fill="#FFC000"/>
<rect x="483.45" y="191.66" width="2.2" height="2.2" fill="#FFC000"/>
<rect x="505.75" y="185.31" width="2.2" height="2.2" fill="#FFC000"/>
<rect x="528.05" y="184.33" width="2.2" height="2.2" fill="#FFC000"/>
<path d="M328.45 237.2 L350.75 234.21 L373.05 230.55 L395.35 224.91 L417.65 222.93 L439.95 213.91 L462.25 212.78 L484.55 202.06 L506.85 200.8 L529.15 189.94" stroke="#2B5A9F" stroke-width="1.25" fill="none" stroke-linejoin="round"/>
<rect x="327.35" y="236.1" width="2.2" height="2.2" fill="#2B5A9F"/>
<rect x="349.65" y="233.11" width="2.2" height="2.2" fill="#2B5A9F"/>
<rect x="371.95" y="229.45" width="2.2" height="2.2" fill="#2B5A9F"/>
<rect x="394.25" y="223.81" width="2.2" height="2.2" fill="#2B5A9F"/>
<rect x="416.55" y="221.83" width="2.2" height="2.2" fill="#2B5A9F"/>
<rect x="438.85" y="212.81" width="2.2" height="2.2" fill="#2B5A9F"/>
<rect x="461.15" y="211.68" width="2.2" height="2.2" fill="#2B5A9F"/>
<rect x="483.45" y="200.96" width="2.2" height="2.2" fill="#2B5A9F"/>
<rect x="505.75" y="199.7" width="2.2" height="2.2" fill="#2B5A9F"/>
<rect x="528.05" y="188.84" width="2.2" height="2.2" fill="#2B5A9F"/>
<path d="M328.45 225.89 L350.75 215.04 L373.05 204.32 L395.35 191.21 L417.65 189.51 L439.95 179.5 L462.25 166.81 L484.55 163.71 L506.85 163.71 L529.15 158.07" stroke="#FFC000" stroke-width="1.2" fill="none" stroke-linejoin="round"/>
<rect x="327.35" y="224.79" width="2.2" height="2.2" fill="#FFC000"/>
<rect x="349.65" y="213.94" width="2.2" height="2.2" fill="#FFC000"/>
<rect x="371.95" y="203.22" width="2.2" height="2.2" fill="#FFC000"/>
<rect x="394.25" y="190.11" width="2.2" height="2.2" fill="#FFC000"/>
<rect x="416.55" y="188.41" width="2.2" height="2.2" fill="#FFC000"/>
<rect x="438.85" y="178.4" width="2.2" height="2.2" fill="#FFC000"/>
<rect x="461.15" y="165.71" width="2.2" height="2.2" fill="#FFC000"/>
<rect x="483.45" y="162.61" width="2.2" height="2.2" fill="#FFC000"/>
<rect x="505.75" y="162.61" width="2.2" height="2.2" fill="#FFC000"/>
<rect x="528.05" y="156.97" width="2.2" height="2.2" fill="#FFC000"/>
<path d="M328.45 224.91 L350.75 213.34 L373.05 202.91 L395.35 190.5 L417.65 188.1 L439.95 178.09 L462.25 168.79 L484.55 163.71 L506.85 159.2 L529.15 154.41" stroke="#4F8A33" stroke-width="1.25" fill="none" stroke-linejoin="round"/>
<rect x="327.35" y="223.81" width="2.2" height="2.2" fill="#4F8A33"/>
<rect x="349.65" y="212.24" width="2.2" height="2.2" fill="#4F8A33"/>
<rect x="371.95" y="201.81" width="2.2" height="2.2" fill="#4F8A33"/>
<rect x="394.25" y="189.4" width="2.2" height="2.2" fill="#4F8A33"/>
<rect x="416.55" y="187" width="2.2" height="2.2" fill="#4F8A33"/>
<rect x="438.85" y="176.99" width="2.2" height="2.2" fill="#4F8A33"/>
<rect x="461.15" y="167.69" width="2.2" height="2.2" fill="#4F8A33"/>
<rect x="483.45" y="162.61" width="2.2" height="2.2" fill="#4F8A33"/>
<rect x="505.75" y="158.1" width="2.2" height="2.2" fill="#4F8A33"/>
<rect x="528.05" y="153.31" width="2.2" height="2.2" fill="#4F8A33"/>
<path d="M25.3 139.9H544.3V269.1L25.3 269.5Z" stroke="#8a8a8a" stroke-width="1.4" fill="none"/>
<path d="M284.6 139.9V269.5" stroke="#7a7a7a" stroke-width="1.5" fill="none"/>
<path d="M24.4 138.6V8.9L543.4 9.3V138.6" stroke="#959595" stroke-width="1.5" fill="none"/>
<path d="M284.1 8.9V138.6" stroke="#959595" stroke-width="2" fill="none"/>
<path d="M23.6 138.8H544.2" stroke="#5a5a5a" stroke-width="1.6" fill="none"/>
<text x="0" y="0" class="b" text-anchor="start" transform="translate(16.4 110.5) rotate(-90)">DBP-YG</text>
<text x="0" y="0" class="b" text-anchor="end" style="font-size:12.5px" transform="translate(16.4 36.1) rotate(-90)">15k</text>
<text x="0" y="0" class="b" text-anchor="start" transform="translate(16.4 240.3) rotate(-90)">DBP-WD</text>
<text x="0" y="0" class="b" text-anchor="end" style="font-size:12.5px" transform="translate(16.4 162.6) rotate(-90)">15k</text>
<rect x="79.6" y="273.6" width="420.3" height="16.6" fill="#fff" stroke="#444" stroke-width="1"/>
<path d="M81.8 282.4H85.6" stroke="#FFC000" stroke-width="1.4"/>
<rect x="86.9" y="281.2" width="3" height="2.4" fill="#FFC000"/>
<text x="94.8" y="285" class="l">MTransE</text>
<path d="M142.6 282.4H154.1" stroke="#5B8A45" stroke-width="1" stroke-dasharray="1 1"/>
<rect x="147.1" y="281.4" width="2" height="2" fill="#3E6B2C"/>
<text x="154.8" y="285" class="l">TransD</text>
<path d="M195.7 282.4H207.2" stroke="#2B5A9F" stroke-width="1.2"/>
<rect x="200.2" y="281.4" width="2" height="2" fill="#2B5A9F"/>
<text x="207.2" y="285" class="l">RotatE</text>
<path d="M245.5 282.4H257" stroke="#BA9020" stroke-width="1.2"/>
<rect x="250" y="281.4" width="2" height="2" fill="#BA9020"/>
<text x="258.6" y="285" class="l">ConvE</text>
<path d="M296.3 282.4H307.8" stroke="#8DC865" stroke-width="1.2"/>
<rect x="300.8" y="281.4" width="2" height="2" fill="#8DC865"/>
<text x="308.8" y="285" class="l">AlignE</text>
<path d="M347.6 282.4H359.1" stroke="#6F93D3" stroke-width="1.2"/>
<rect x="352.1" y="281.4" width="2" height="2" fill="#6F93D3"/>
<text x="359.7" y="285" class="l">AttrE</text>
<path d="M392.4 282.4H403.9" stroke="#FFC000" stroke-width="1.2"/>
<rect x="396.9" y="281.4" width="2" height="2" fill="#FFC000"/>
<text x="404.4" y="285" class="l">GCN-a</text>
<path d="M443.6 282.4H455.1" stroke="#4F8A33" stroke-width="1.2"/>
<rect x="448.1" y="281.4" width="2" height="2" fill="#4F8A33"/>
<text x="455.8" y="285" class="l">proposed</text>
</svg>
</body></html>
